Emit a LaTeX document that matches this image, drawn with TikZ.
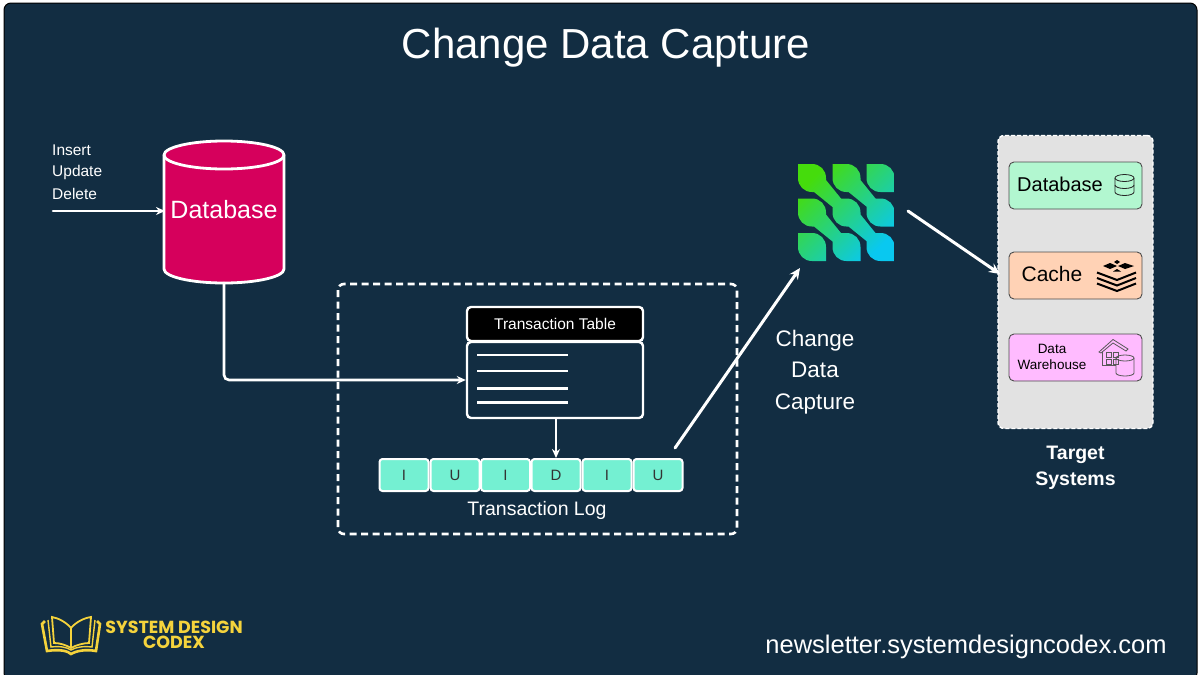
\documentclass[tikz,border=0pt]{standalone}
\usepackage{fontspec}
\setmainfont{Liberation Sans}
\newfontfamily\brandf{Poppins}
\usetikzlibrary{arrows.meta,calc}
\definecolor{navy}{HTML}{122D42}
\definecolor{dbred}{HTML}{D6005C}
\definecolor{logteal}{HTML}{74F0D2}
\definecolor{greenbox}{HTML}{B2F7D0}
\definecolor{orangebox}{HTML}{FFD2B5}
\definecolor{pinkbox}{HTML}{FFBBFF}
\definecolor{panel}{HTML}{E2E2E2}
\definecolor{gold}{HTML}{F5D33C}
\definecolor{gA}{HTML}{45DC0C}
\definecolor{gB}{HTML}{0ACB8A}
\definecolor{gC}{HTML}{09C8F0}
\newcommand{\fs}[1]{\fontsize{#1}{#1}\selectfont}
\tikzset{
 wire/.style={white,line width=2.6pt,line cap=round,-{Stealth[length=9pt,width=8pt]},rounded corners=5pt},
 bigwire/.style={white,line width=3pt,line cap=round,-{Stealth[length=11pt,width=10pt]}},
 logcell/.style={draw=white,line width=2pt,fill=logteal,rounded corners=3pt,minimum width=49pt,minimum height=32pt,text=black!80,inner sep=0pt,font=\fs{15}},
 target/.style={draw=black!70,line width=.9pt,rounded corners=5pt,minimum width=133pt,minimum height=47pt,inner sep=0pt},
 wtext/.style={text=white,align=center,inner sep=0pt},
 ink/.style={draw=black!85,line width=.8pt,fill=none},
 wareink/.style={draw=black!65,line width=.8pt},
 rowline/.style={white,line width=2.4pt},
}
\begin{document}
\begin{tikzpicture}[x=1pt,y=-1pt]
\useasboundingbox (0,0) rectangle (1200,675);
\fill[white] (0,0) rectangle (1200,675);
\draw[black,line width=1pt,fill=navy,rounded corners=7pt] (4,3) rectangle (1197,680);
\node[wtext,font=\fs{42}] (title) at (606,48) {Change Data Capture};
% inputs
\node[wtext,anchor=west,font=\fs{15.5}] (ins) at (52,150) {Insert};
\node[wtext,anchor=west,font=\fs{15.5}] (upd) at (52,172) {Update};
\node[wtext,anchor=west,font=\fs{15.5}] (del) at (52,194) {Delete};
% database cylinder
\draw[white,line width=2.8pt,fill=dbred] (164,155) -- (164,269) arc[start angle=180,end angle=0,x radius=60,y radius=14] -- (284,155) arc[start angle=0,end angle=-180,x radius=60,y radius=14] -- cycle;
\draw[white,line width=2.8pt] (164,155) arc[start angle=180,end angle=0,x radius=60,y radius=14];
\node[wtext,font=\fs{25}] (db) at (224,210) {Database};
\coordinate (dbW) at (165,211);
\coordinate (dbS) at (224,283);
\coordinate (inStart) at (53,211);
\draw[wire] (inStart) -- (dbW);
% transaction group
\draw[white,line width=2.6pt,dash pattern=on 7pt off 4.5pt,rounded corners=6pt] (338,284) rectangle (737,534);
\node[draw=white,line width=2.4pt,fill=black,rounded corners=4pt,minimum width=176pt,minimum height=34pt,inner sep=0pt,text=white,font=\fs{15.5}] (tt) at (555,324) {Transaction Table};
\node[draw=white,line width=2.4pt,fill=navy,rounded corners=4pt,minimum width=176pt,minimum height=76pt,inner sep=0pt] (tb) at (555,380) {};
\draw[rowline] (477,355) -- (568,355);
\draw[rowline] (477,371) -- (568,371);
\draw[rowline] (477,388.5) -- (568,388.5);
\draw[rowline] (477,402.5) -- (568,402.5);
\foreach \n/\x/\t in {a/404/I,b/455/U,c/505.5/I,d/556/D,e/607/I,f/658/U}
  \node[logcell] (\n) at (\x,475) {\t};
\node[wtext,font=\fs{19.5}] (tlog) at (537,510) {Transaction Log};
\draw[wire] (dbS) |- (tb.west);
\draw[wire] (tb.south -| d.north) -- (d.north);
% logo
\coordinate (logoS) at (800,268);
\coordinate (logStart) at (675,448);
\draw[bigwire] (logStart) -- (logoS);
\begin{scope}
\clip \foreach \x/\y in {798/164,832.5/164,866.5/164,798/198.5,832.5/198.5,866.5/198.5,798/233,832.5/233,866.5/233}
 { (\x,\y) -- ++(14,0) .. controls +(8,0) and +(0,-8) .. ++(14,14) -- ++(0,14) -- ++(-14,0) .. controls +(-8,0) and +(0,8) .. ++(-14,-14) -- cycle }
 \foreach \x/\y in {798/164,832.5/164,798/198.5,832.5/198.5}
 { (\x+28,\y+16) -- (\x+43,\y+34.5) -- (\x+34.5,\y+43) -- (\x+16,\y+28) -- cycle };
\shade[top color=gA,middle color=gB,bottom color=gC,shading angle=45] (798,164) rectangle (894,261);
\end{scope}
% change data capture
\node[wtext,font=\fs{22.5},align=center] (cdc) at (815,372) {Change\\[9pt]Data\\[9pt]Capture};
% target panel
\node[draw=white,line width=1.4pt,dash pattern=on 4pt off 2pt,fill=panel,rounded corners=6pt,minimum width=155pt,minimum height=293pt,inner sep=0pt] (panel) at (1075.5,282) {};
\node[target,fill=greenbox] (t1) at (1075.5,185.5) {};
\node[target,fill=orangebox] (t2) at (1075.5,275.5) {};
\node[target,fill=pinkbox] (t3) at (1075.5,357.5) {};
\node[font=\fs{20},text=black,inner sep=0pt] (t1l) at (1060,184) {Database};
\node[font=\fs{21},text=black,inner sep=0pt] (t2l) at (1052,274) {Cache};
\node[font=\fs{13.5},text=black,inner sep=0pt,align=center] (t3l) at (1052,357) {Data\\[3pt]Warehouse};
% db icon
\draw[ink] (1115,178) -- (1115,192) arc[start angle=180,end angle=0,x radius=9.5,y radius=3.5] -- (1134,178);
\draw[ink] (1124.5,178) ellipse[x radius=9.5,y radius=3.5];
\draw[ink] (1115,185) arc[start angle=180,end angle=0,x radius=9.5,y radius=3.5];
% redis icon
\foreach \dy in {0,5.5,11}
  \draw[black,line width=2pt] (1097,{272.5+\dy}) -- (1117,{280+\dy}) -- (1136,{272.5+\dy});
\fill[black] (1110,263) -- (1117,266) -- (1110,269) -- (1103,266) -- cycle;
\fill[black] (1125,263) -- (1134,266) -- (1125,269) -- (1118,266) -- cycle;
\fill[black] (1117,260) -- (1120,262) -- (1117,264) -- (1114,262) -- cycle;
\fill[black] (1117,269) -- (1121,271.5) -- (1113,271.5) -- cycle;
% warehouse icon
\draw[wareink] (1099,352) -- (1113,339.5) -- (1128,349) -- (1126,351) -- (1113,343) -- (1101,353) -- cycle;
\draw[wareink] (1102,352) -- (1102,365) -- (1116,365);
\draw[wareink] (1106,352) rectangle (1111,357);
\draw[wareink] (1106,359) rectangle (1111,364);
\draw[wareink] (1113,352) rectangle (1118,357);
\draw[wareink] (1113,359) rectangle (1118,364);
\draw[wareink] (1116,358) -- (1116,373) arc[start angle=180,end angle=0,x radius=9,y radius=3] -- (1134,358);
\draw[wareink] (1125,358) ellipse[x radius=9,y radius=3];
\coordinate (logoE) at (908,211);
\coordinate (panelW) at (1000,274);
\draw[bigwire] (logoE) -- (panelW);
\node[wtext,font=\fs{19.5},align=center] (tsys) at (1075.5,468) {\textbf{Target}\\[7pt]\textbf{Systems}};
% brand
\begin{scope}[shift={(0,600)}]
\draw[gold,line width=2.6pt,fill=navy] (45,21) -- (42,24) -- (47,51) .. controls (60,49) and (68,51) .. (71,54) .. controls (76,51) and (85,49) .. (96,51) -- (100,24) -- (97,21);
\draw[gold,line width=1.4pt] (48,20) -- (51,47) .. controls (60,46) and (66,47) .. (71,50) .. controls (76,47) and (84,46) .. (92,47) -- (95,20);
\draw[gold,line width=1.8pt] (52,17) -- (54,43) .. controls (60,43) and (66,45) .. (71,48) .. controls (76,45) and (84,43) .. (89,43) -- (91,17) .. controls (84,18) and (76,22) .. (71,28) .. controls (66,22) and (58,18) .. (52,17) -- cycle;
\draw[gold,line width=1.4pt] (71,28) -- (71,48);
\node[font=\brandf\bfseries\fs{17.5},text=gold,inner sep=0pt,align=center] (brand) at (174,35) {SYSTEM DESIGN\\[-2pt]CODEX};
\end{scope}
\node[wtext,font=\fs{25.5}] (url) at (966,647) {newsletter.systemdesigncodex.com};
\end{tikzpicture}
\end{document}
